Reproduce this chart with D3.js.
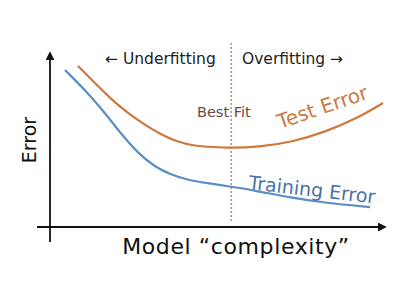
<!DOCTYPE html>
<html>
<head>
<meta charset="utf-8">
<script src="https://cdn.jsdelivr.net/npm/d3@7"></script>
<style>
  body { margin: 0; background: #fff; }
  text { font-family: "DejaVu Sans", sans-serif; }
</style>
</head>
<body>
<div id="chart"></div>
<script>
// Model complexity (0-100) and error (0-100).
let test_complexity = [8.4, 13.5, 18.6, 23.4, 28.5, 33.6, 38.4, 43.5, 48.6, 54.7, 62.5, 72.7, 82.6, 92.5, 100];
let test_error = [93.6, 83.7, 73.8, 66.3, 59.3, 53.5, 49.4, 47.1, 46.5, 45.9, 46.5, 49.4, 55.2, 63.4, 72.1];
let train_complexity = [4.5, 11.4, 16.5, 21.6, 26.4, 31.5, 36.6, 41.4, 47, 54.7, 60.7, 72.7, 82.6, 96.1];
let train_error = [91.3, 77.9, 66.3, 53.5, 43, 34.9, 30.2, 27.3, 25.6, 23.3, 21.5, 16.9, 14, 11.6];
let best_fit = 54.4;

let width = 400, height = 300;

let svg = d3.select("#chart")
.append("svg")
.attr("width", width)
.attr("height", height);

// Plot area in pixels.
let x = d3.scaleLinear().domain([0, 100]).range([50, 383]);
let y = d3.scaleLinear().domain([0, 100]).range([227, 55]);

let defs = svg.append("defs");
defs.append("marker")
.attr("id", "arrow")
.attr("viewBox", "0 0 10 10")
.attr("refX", 8).attr("refY", 5)
.attr("markerWidth", 5).attr("markerHeight", 5)
.attr("orient", "auto")
.append("path")
.attr("d", "M0,0 L10,5 L0,10 Z")
.attr("fill", "#111");

// Axes drawn as arrows.
svg.append("line")
.attr("x1", x(0)).attr("y1", y(0) + 15)
.attr("x2", x(0)).attr("y2", y(100) - 2)
.attr("stroke", "#111").attr("stroke-width", 1.8)
.attr("marker-end", "url(#arrow)");

svg.append("line")
.attr("x1", x(0) - 13).attr("y1", y(0))
.attr("x2", x(100) + 2).attr("y2", y(0))
.attr("stroke", "#111").attr("stroke-width", 1.8)
.attr("marker-end", "url(#arrow)");

// Best fit divider.
svg.append("line")
.attr("x1", x(best_fit)).attr("y1", 43)
.attr("x2", x(best_fit)).attr("y2", y(0) - 5)
.attr("stroke", "#c0605a").attr("stroke-width", 1.2)
.attr("stroke-dasharray", "2,2");

let line = d3.line()
.x(d => x(d[0]))
.y(d => y(d[1]))
.curve(d3.curveBasis);

svg.append("path")
.datum(d3.zip(test_complexity, test_error))
.attr("d", line)
.attr("fill", "none")
.attr("stroke", "#d2773a")
.attr("stroke-width", 2.2);

svg.append("path")
.datum(d3.zip(train_complexity, train_error))
.attr("d", line)
.attr("fill", "none")
.attr("stroke", "#5b8ec4")
.attr("stroke-width", 2.2);

// Labels.
svg.append("text")
.attr("x", 105).attr("y", 64)
.attr("font-size", 15.5).attr("fill", "#222")
.text("← Underfitting");

svg.append("text")
.attr("x", 242).attr("y", 64)
.attr("font-size", 15.5).attr("fill", "#222")
.text("Overfitting →");

svg.append("text")
.attr("x", 197).attr("y", 117)
.attr("font-size", 14.5).attr("fill", "#6b4a45")
.text("Best Fit");

svg.append("text")
.attr("transform", "translate(280,129) rotate(-19)")
.attr("font-size", 20).attr("fill", "#cc7a45")
.text("Test Error");

svg.append("text")
.attr("transform", "translate(248,189) rotate(6.5)")
.attr("font-size", 19).attr("fill", "#4a72a8")
.text("Training Error");

svg.append("text")
.attr("transform", "translate(36,140) rotate(-90)")
.attr("text-anchor", "middle")
.attr("font-size", 19).attr("fill", "#111")
.text("Error");

svg.append("text")
.attr("x", 236).attr("y", 254)
.attr("text-anchor", "middle")
.attr("font-size", 22).attr("letter-spacing", 0.6).attr("fill", "#111")
.text("Model “complexity”");
</script>
</body>
</html>
